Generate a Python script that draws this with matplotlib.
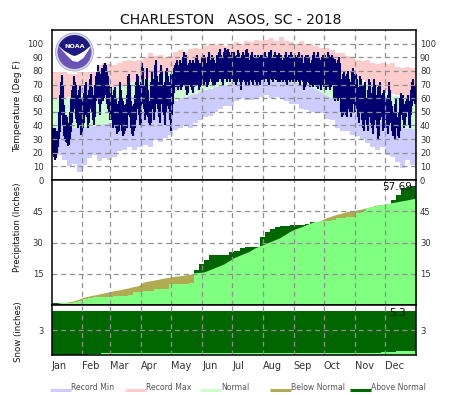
import numpy as np
import matplotlib
matplotlib.use("Agg")
import matplotlib.pyplot as plt
from matplotlib.lines import Line2D
from matplotlib.patches import Circle, Polygon
from matplotlib.transforms import ScaledTranslation

plt.rcParams['font.family'] = ['DejaVu Sans']

TITLE = "CHARLESTON   ASOS, SC - 2018"
months = ["Jan","Feb","Mar","Apr","May","Jun","Jul","Aug","Sep","Oct","Nov","Dec"]
month_start = [0,31,59,90,120,151,181,212,243,273,304,334]
legend_labels = ["Record Min","Record Max","Normal","Below Normal","Above Normal"]

obs_hi = [36,38,36,38,36,36,33,50,62,72,77,70,55,44,48,46,42,38,50,60,66,70,76,72,70,62,58,66,70,60,48,
 58,64,70,72,62,55,66,74,78,68,62,58,70,76,82,84,80,70,78,82,80,84,86,84,80,76,70,66,
 68,62,58,66,68,60,56,54,58,72,66,60,58,55,54,56,62,76,78,70,58,54,52,56,62,72,78,76,70,64,72,
 86,82,70,62,74,82,66,58,58,72,80,74,60,84,88,76,72,64,78,84,80,70,66,72,80,82,76,68,72,78,
 72,78,82,84,86,88,82,84,88,86,84,90,94,88,92,84,82,86,88,86,84,88,84,86,90,92,88,86,84,86,90,
 88,92,90,86,84,90,94,88,86,92,90,88,84,86,92,90,94,96,92,88,90,94,97,95,92,96,94,90,92,94,
 90,92,94,91,88,92,95,93,90,88,92,94,90,92,95,96,93,88,86,92,94,90,88,92,90,86,92,90,88,92,90,
 92,90,94,91,88,90,94,92,95,90,88,92,94,90,92,89,93,90,92,88,86,90,92,94,90,88,92,90,94,92,90,
 90,92,88,90,92,94,90,88,92,86,84,90,92,88,92,90,86,84,88,92,94,90,88,92,94,90,86,88,90,92,
 90,92,88,90,94,92,88,90,92,90,88,89,86,85,88,90,86,74,72,78,80,76,70,78,80,74,66,72,80,82,78,
 72,78,74,66,68,76,74,70,64,70,72,60,56,66,74,72,64,60,68,74,70,62,60,68,70,72,62,58,64,66,
 56,60,54,62,72,66,58,54,50,48,56,60,46,42,50,60,64,58,62,56,52,58,60,62,54,58,66,72,74,70,68]
obs_lo = [22,20,17,15,16,20,24,30,35,48,55,40,32,30,28,27,25,26,30,35,42,50,52,58,45,42,38,45,40,33,35,
 38,42,48,52,46,38,42,52,56,50,44,40,46,58,60,62,56,48,56,62,58,60,64,62,56,52,50,44,
 48,44,38,40,44,38,34,35,36,40,42,36,32,34,36,38,38,48,52,46,38,34,32,36,38,44,56,52,48,40,42,
 56,60,52,44,48,58,46,42,40,42,52,56,44,50,62,56,52,46,42,56,60,50,48,40,50,60,54,52,44,36,
 48,56,64,68,70,68,66,70,68,66,68,70,72,70,66,62,64,70,72,68,66,64,68,70,70,72,70,66,68,70,72,
 72,70,74,72,68,70,72,74,76,72,70,72,70,72,74,72,74,76,74,72,70,74,76,74,72,75,74,72,74,76,
 74,72,73,74,70,72,74,75,72,66,72,74,73,72,70,74,72,70,73,74,72,70,74,73,72,70,74,72,70,73,74,
 73,72,74,75,74,72,70,74,75,73,72,74,75,73,74,72,73,72,75,73,72,74,73,72,70,73,74,72,73,74,72,
 73,74,72,73,74,72,70,74,73,72,66,68,70,72,73,71,68,70,72,68,70,72,70,68,67,70,72,66,70,72,
 68,70,66,68,70,68,66,68,72,70,60,58,62,60,58,66,60,50,46,48,54,50,48,46,52,56,50,46,50,56,58,
 50,54,52,46,42,50,54,44,38,36,44,48,40,36,46,52,42,38,34,40,50,44,38,30,32,44,50,46,36,38,
 44,46,38,34,40,50,42,36,32,34,30,38,40,32,31,36,48,50,44,38,40,46,50,52,40,38,48,54,60,58,56]

rec_max = [80,80,79,78,78,79, 80,80,82,84,86,85, 84,86,87,88,87,88, 90,93,91,92,90,91, 94,95,94,96,97,96,
 98,100,99,100,98,100, 101,100,102,101,103,102, 103,104,102,105,102,101, 100,102,100,99,98,97,
 97,95,93,93,91,90, 88,87,88,86,85,86, 85,86,83,82,83,82,82]
rec_min = [18,18,15,10,12,6, 11,16,18,14,16,15, 17,21,22,24,22,24, 26,24,29,28,31,33, 37,38,40,38,42,44,
 46,47,50,52,54,54, 58,60,59,59,60,61, 62,60,61,60,58,56, 56,52,51,50,49,49,
 45,44,38,36,36,33, 32,30,27,24,22,24, 18,17,13,9,15,11,22]
norm_hi = [60,60,60,61,61,62, 62,63,64,65,66,67, 68,69,70,71,72,73, 74,75,76,77,78,79, 80,81,82,83,84,85,
 85,86,87,88,89,90, 90,91,91,91,92,92, 92,92,92,91,91,90, 90,89,88,87,86,85,
 84,83,82,80,78,77, 75,73,71,70,68,66, 65,63,62,61,60,60,60]
norm_lo = [38,38,38,38,38,39, 39,39,40,40,41,42, 43,44,45,46,47,49, 50,51,52,53,54,56, 58,60,61,62,63,65,
 66,67,68,69,70,71, 72,72,73,73,73,73, 73,73,73,73,73,72, 72,71,70,69,67,65,
 63,61,59,57,55,53, 51,49,47,45,44,43, 42,41,40,39,38,38,37]

# Normal accumulated precipitation (smooth) and observed (stepped), every 5 days
precip_norm = [0.2,0.5,1.1,1.4,1.9,2.6, 3.6,4.2,4.7,5.2,5.7,6.2, 6.8,7.2,7.7,8.2,8.8,9.3, 11,11.5,11.9,12.4,12.9,13.3,
 13.7,14,14.3,14.7,15.2,15.4, 15.6,16.5,17.5,18.5,19.5,21, 22.5,23.5,24.5,25.5,27,28,
 29,30,31,32,33.5,35, 36.2,37,38,39,39.9,40.5, 41.7,42.5,43.4,44,44.7,45.2,
 45.5,46,46.6,47.2,47.9,48.2, 48.4,48.8,49.2,49.7,50.1,50.6,51.1]
precip_obs = [1.0,1.2,0.8,1.1,1.6,2.0, 2.8,3.2,3.8,4,4,4, 4.1,4.3,4.5,4.8,6.2,6.4, 6.5,6.8,7.5,7.7,7.7,10.1,
 10.1,10.1,10.1,10.5,16.9,19.8, 21.7,24.1,24.1,24.1,24.1,25.5, 26,27.4,27.7,27.8,28,32.6,
 35,36.7,37.5,38,38.1,38.2, 38.6,38.6,39,39.7,39.9,40.3, 40.5,41,41.7,42,42.2,42.2,
 44.2,45,46.6,47,47.5,48.2, 48.5,50.3,52.6,56.3,56.5,57,57.69]

snow_days = [2, 37, 50, 330, 345, 365]
snow_norm = [0, 0.15, 0.3, 0.4, 0.5, 0.5]
snow_obs = 5.3
precip_total = 57.69

C_MIN, C_MAX, C_NORM = "#ccccff", "#ffcccc", "#ccffcc"
C_BELOW, C_ABOVE, C_RAIN, C_OBS = "#b0aa50", "#006600", "#80ff80", "#000070"
GRID = dict(color="#909090", ls=(0, (4, 3)), lw=0.9)

W, H = 465, 395
fig = plt.figure(figsize=(W/100, H/100), dpi=100)
L, R = 51.5, 415.5
def mkax(top, bot):
    return fig.add_axes([L/W, 1-bot/H, (R-L)/W, (bot-top)/H])
axT, axP, axS = mkax(30, 180), mkax(180, 305), mkax(305, 355)

n = len(rec_max)
xs = np.arange(n) * 365 / (n - 1)
days = np.arange(365) + 0.5

axT.fill_between(xs, rec_min, norm_lo, step="post", color=C_MIN, lw=0)
axT.fill_between(xs, norm_lo, norm_hi, color=C_NORM, lw=0)
axT.fill_between(xs, norm_hi, rec_max, step="post", color=C_MAX, lw=0)
axT.vlines(days, obs_lo, obs_hi, color=C_OBS, lw=1.5)
axT.set_ylim(0, 110)
axT.set_yticks(range(0, 101, 10))

xp = xs + 1
axP.fill_between(xp, 0, precip_obs, step="post", color=C_ABOVE, lw=0)
normal_poly = axP.fill_between(xp, 0, precip_norm, color=C_BELOW, lw=0)
rain_poly = axP.fill_between(xp, 0, precip_obs, step="post", color=C_RAIN, lw=0)
rain_poly.set_clip_path(normal_poly.get_paths()[0], transform=axP.transData)
axP.set_ylim(0, 60)
axP.set_yticks([15, 30, 45])
axP.text(361.5, precip_total - 1.2, f"{precip_total}", ha="right", va="center", fontsize=7.6, color="#111111", zorder=10)

axS.fill_between([1, 365], 0, snow_obs, color=C_ABOVE, lw=0)
axS.fill_between(snow_days, 0, snow_norm, step="post", color=C_RAIN, lw=0)
axS.set_ylim(0, 6)
axS.set_yticks([3])
axS.text(355, snow_obs - 0.3, f"{snow_obs}", ha="right", va="center", fontsize=7.6, color="#111111", zorder=10)

for ax in (axT, axP, axS):
    ax.set_xlim(0, 365)
    ax.set_xticks(month_start[1:])
    ax.set_axisbelow(False)
    ax.grid(True, **GRID)
    ax.tick_params(axis="both", length=0, labelbottom=False, labelright=True, labelsize=6.1,
                   labelcolor="#333333")
    ax.tick_params(axis="y", pad=5.8)
    for s in ax.spines.values():
        s.set_linewidth(1.1)
        s.set_zorder(20)

axS.set_xticks(month_start, months)
axS.xaxis.grid(True, **GRID)
axS.tick_params(axis="x", labelbottom=True, labelsize=7, pad=4)
for t in axS.get_xticklabels():
    t.set_ha("left")
axS.get_xgridlines()[0].set_visible(False)

fig.text(231/W, 1-20.5/H, TITLE, ha="center", va="center", fontsize=10, color="#111111")
for txt, yc, fs in (("Temperature (Deg F)", 106, 6.4), ("Precipitation (Inches)", 227, 6.0), ("Snow (inches)", 332, 6.2)):
    fig.text(18/W, 1-yc/H, txt, rotation=90, ha="center", va="center", fontsize=fs, color="#111111")

colors = [C_MIN, C_MAX, C_NORM, C_BELOW, C_ABOVE]
starts = [50, 125, 200, 270, 350]
for lab, col, x0 in zip(legend_labels, colors, starts):
    fig.add_artist(Line2D([x0/W, (x0+21)/W], [1-389.5/H]*2, color=col, lw=2.2, solid_capstyle="butt"))
    fig.text((x0+21)/W, 1-387.5/H, lab, ha="left", va="center", fontsize=5.6, color="#555555")

# NOAA logo
lg = fig.add_axes([52.5/W, 1-72/H, 44/W, 41/H], zorder=5)
lg.set_xlim(-22, 22); lg.set_ylim(-20, 21); lg.set_xticks([]); lg.set_yticks([])
lg.set_facecolor("white")
for s in lg.spines.values():
    s.set_visible(False)
lg.add_patch(Circle((0, 0), 19, fc="#d8d8e8", ec="#a0a0c0", lw=0.5))
disc = Circle((0, 0), 17, fc="#6a55b5", ec="none")
lg.add_patch(disc)
band = Polygon([[-18,8],[-8,-3],[-2,-9],[3,-10],[9,-6],[18,8],[18,18],[-18,18]], fc="white", ec="none")
lg.add_patch(band); band.set_clip_path(disc)
dome = Polygon([[-17,7],[-10,1],[-3,-3],[0,-4],[3,-3],[10,1],[17,7],[17,18],[-17,18]], fc="#1c1a80", ec="none")
lg.add_patch(dome); dome.set_clip_path(disc)
lg.text(0, 5, "NOAA", color="white", fontsize=4.6, fontweight="bold", ha="center", va="center")

fig.canvas.draw()
shift = ScaledTranslation(-2.6/72, 0, fig.dpi_scale_trans)
for ax in (axT, axP, axS):
    for t in ax.yaxis.get_major_ticks():
        t.label2.set_transform(t.label2.get_transform() + shift)

fig.savefig("out.png", dpi=100)
